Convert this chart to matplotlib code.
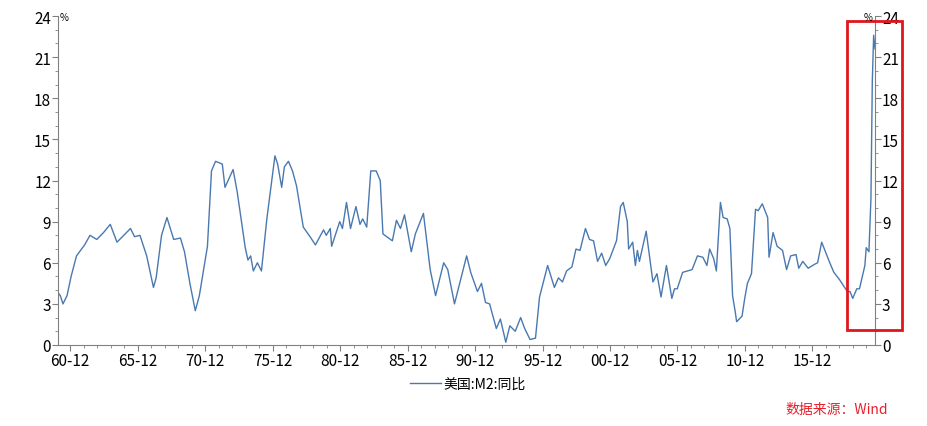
import numpy as np
import matplotlib.pyplot as plt
from matplotlib.patches import Rectangle

plt.rcParams['font.family'] = ['Noto Sans CJK SC', 'DejaVu Sans']

# fractional year, M2 yoy (%), ten points per row
years = [1960.05, 1960.2, 1960.4, 1960.7, 1961.0, 1961.4, 1961.7, 1962.0, 1962.4, 1962.9,
         1963.4, 1963.9, 1964.4, 1964.9, 1965.4, 1965.7, 1966.1, 1966.6, 1967.1, 1967.3,
         1967.7, 1968.1, 1968.6, 1969.1, 1969.4, 1969.8, 1970.2, 1970.5, 1971.1, 1971.4,
         1971.7, 1972.2, 1972.4, 1973.0, 1973.3, 1973.9, 1974.1, 1974.3, 1974.5, 1974.8,
         1975.1, 1975.5, 1976.1, 1976.3, 1976.6, 1976.8, 1977.1, 1977.4, 1977.7, 1978.2,
         1978.7, 1979.1, 1979.7, 1979.9, 1980.2, 1980.3, 1980.9, 1981.1, 1981.4, 1981.7,
         1982.1, 1982.4, 1982.6, 1982.9, 1983.2, 1983.6, 1983.9, 1984.1, 1984.8, 1985.1,
         1985.4, 1985.7, 1986.2, 1986.5, 1987.1, 1987.6, 1988.0, 1988.6, 1988.9, 1989.4,
         1990.3, 1990.6, 1991.1, 1991.4, 1991.7, 1992.0, 1992.5, 1992.8, 1993.2, 1993.5,
         1993.9, 1994.3, 1994.6, 1995.0, 1995.4, 1995.7, 1996.3, 1996.8, 1997.1, 1997.4,
         1997.7, 1998.1, 1998.4, 1998.7, 1999.1, 1999.4, 1999.7, 2000.0, 2000.3, 2000.6,
         2000.9, 2001.4, 2001.7, 2001.9, 2002.2, 2002.3, 2002.6, 2002.8, 2002.95, 2003.1,
         2003.6, 2004.1, 2004.4, 2004.7, 2005.1, 2005.5, 2005.7, 2005.9, 2006.3, 2007.0,
         2007.4, 2007.8, 2008.1, 2008.3, 2008.6, 2008.8, 2009.1, 2009.3, 2009.6, 2009.8,
         2010.0, 2010.2, 2010.3, 2010.7, 2010.9, 2011.1, 2011.4, 2011.7, 2011.9, 2012.2,
         2012.6, 2012.7, 2013.0, 2013.3, 2013.7, 2014.0, 2014.3, 2014.7, 2014.9, 2015.2,
         2015.6, 2016.1, 2016.3, 2016.6, 2016.8, 2017.2, 2017.5, 2017.9, 2018.5, 2018.7,
         2018.9, 2019.2, 2019.4, 2019.8, 2019.9, 2020.1, 2020.25, 2020.35, 2020.45, 2020.55]
m2 = [3.8, 3.6, 3.0, 3.6, 5.0, 6.5, 6.9, 7.3, 8.0, 7.7,
      8.2, 8.8, 7.5, 8.0, 8.5, 7.9, 8.0, 6.5, 4.2, 4.9,
      8.0, 9.3, 7.7, 7.8, 6.8, 4.5, 2.5, 3.6, 7.2, 12.7,
      13.4, 13.2, 11.5, 12.8, 11.2, 7.1, 6.2, 6.5, 5.4, 6.0,
      5.4, 9.2, 13.8, 13.2, 11.5, 13.0, 13.4, 12.7, 11.6, 8.6,
      7.9, 7.3, 8.4, 8.0, 8.5, 7.2, 9.0, 8.5, 10.4, 8.5,
      10.1, 8.8, 9.2, 8.6, 12.7, 12.7, 12.0, 8.1, 7.6, 9.1,
      8.5, 9.5, 6.8, 8.1, 9.6, 5.5, 3.6, 6.0, 5.5, 3.0,
      6.5, 5.3, 3.9, 4.5, 3.1, 3.0, 1.2, 1.9, 0.2, 1.4,
      1.0, 2.0, 1.2, 0.4, 0.5, 3.5, 5.8, 4.2, 4.9, 4.6,
      5.4, 5.7, 7.0, 6.9, 8.5, 7.7, 7.6, 6.1, 6.7, 5.8,
      6.3, 7.6, 10.1, 10.4, 9.0, 7.0, 7.5, 5.8, 6.9, 6.1,
      8.3, 4.6, 5.2, 3.5, 5.8, 3.4, 4.1, 4.1, 5.3, 5.5,
      6.5, 6.4, 5.8, 7.0, 6.3, 5.4, 10.4, 9.3, 9.2, 8.5,
      3.6, 2.4, 1.7, 2.1, 3.4, 4.5, 5.2, 9.9, 9.8, 10.3,
      9.3, 6.4, 8.2, 7.2, 6.9, 5.5, 6.5, 6.6, 5.6, 6.1,
      5.6, 5.9, 6.0, 7.5, 7.0, 6.0, 5.3, 4.8, 3.9, 3.9,
      3.4, 4.1, 4.1, 5.8, 7.1, 6.8, 10.7, 19.2, 22.6, 21.6]

tick_years = [1960.92 + 5 * k for k in range(12)]
tick_labels = ['60-12', '65-12', '70-12', '75-12', '80-12', '85-12', '90-12', '95-12',
               '00-12', '05-12', '10-12', '15-12']

fig = plt.figure(figsize=(9.28, 4.27), dpi=100)
ax = fig.add_axes([58 / 928, 1 - 346 / 427, 817 / 928, 329 / 427])
line, = ax.plot(years, m2, color='#4a78b0', lw=1.0, label='美国:M2:同比')
ax.set_xlim(1960.03, 2020.55)
ax.set_ylim(0, 24)
ax.set_yticks(range(0, 25, 3))
ax.set_yticks(range(0, 25, 1), minor=True)
ax.set_xticks(tick_years)
ax.set_xticklabels(tick_labels)
ax.set_xticks(np.arange(1960.92, 2020.6, 1), minor=True)
for s in ['top', 'right']:
    ax.spines[s].set_visible(False)
for s in ['left', 'bottom']:
    ax.spines[s].set_color('#808080')
ax.tick_params(axis='both', which='major', length=4, color='#808080', labelsize=11, pad=1)
ax.tick_params(axis='both', which='minor', length=2, color='#808080')

ax2 = ax.twinx()
ax2.set_ylim(0, 24)
ax2.set_yticks(range(0, 25, 3))
ax2.set_yticks(range(0, 25, 1), minor=True)
for s in ['top', 'left', 'bottom']:
    ax2.spines[s].set_visible(False)
ax2.spines['right'].set_color('#808080')
ax2.tick_params(axis='y', which='major', length=4, color='#808080', labelsize=11, pad=1)
ax2.tick_params(axis='y', which='minor', length=2, color='#808080')

fig.text(60 / 928, 1 - 18 / 427, '%', fontsize=7, va='center')
fig.text(864 / 928, 1 - 18 / 427, '%', fontsize=7, va='center')

fig.legend(handles=[line], loc='center', bbox_to_anchor=(468 / 928, 1 - 385 / 427),
           frameon=False, fontsize=10, handlelength=2.2, handletextpad=0.2)
fig.text(888 / 928, 1 - 410 / 427, '数据来源：Wind', color='#e8202a', fontsize=10,
         style='italic', ha='right', va='center')

fig.patches.append(Rectangle((847 / 928, 1 - 331 / 427), 55 / 928, 309 / 427,
                             transform=fig.transFigure, fill=False, edgecolor='#e0161c', lw=2))

fig.savefig('out.png', dpi=100)
